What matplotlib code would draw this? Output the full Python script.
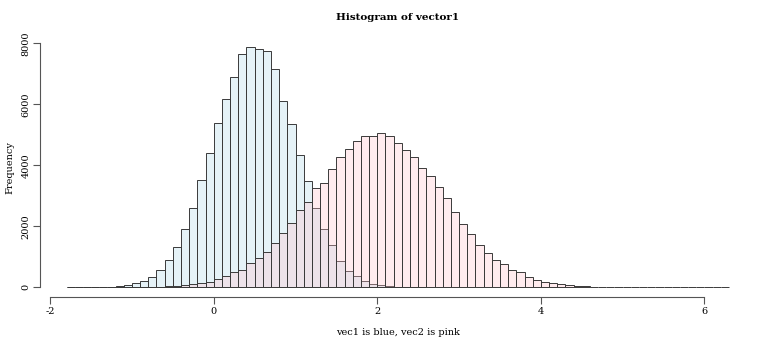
import numpy as np
import matplotlib
matplotlib.use("Agg")
import matplotlib.pyplot as plt

# ---- data (bin width 0.1) ----
bin_width = 0.1
blue_start = -1.8
blue_counts = [1, 1, 2, 5, 10, 20, 40, 80, 128, 215,
               355, 585, 905, 1315, 1918, 2597, 3529, 4405, 5398, 6165,
               6882, 7638, 7868, 7825, 7749, 7157, 6116, 5348, 4345, 3485,
               2608, 1907, 1381, 877, 540, 370, 200, 99, 70, 44,
               20, 9, 4, 2]
pink_start = -1.8
pink_counts = [1, 0, 0, 1, 1, 1, 2, 3, 5, 7,
               12, 19, 30, 46, 66, 99, 143, 175, 274, 373,
               515, 581, 811, 975, 1173, 1469, 1797, 2104, 2543, 2806,
               3266, 3420, 3891, 4264, 4548, 4800, 4965, 4954, 5074, 4976,
               4746, 4516, 4274, 3913, 3645, 3288, 2926, 2466, 2071, 1754,
               1392, 1129, 888, 778, 581, 493, 351, 248, 186, 142,
               99, 72, 50, 33, 20, 12, 7, 4, 2, 2,
               1, 1, 0, 1, 0, 0, 0, 0, 0, 0, 1]
x_ticks = [-2, 0, 2, 4, 6]
y_ticks = [0, 2000, 4000, 6000, 8000]
title = "Histogram of vector1"
xlabel = "vec1 is blue, vec2 is pink"
ylabel = "Frequency"

blue_col = (173/255, 216/255, 230/255, 80/255)
pink_col = (255/255, 192/255, 203/255, 80/255)

fig = plt.figure(figsize=(7.68, 3.41), dpi=100)
ax = fig.add_axes([40/768, 1 - 297/341, (755.5 - 40)/768, (297 - 37.7)/341])

blue_left = blue_start + bin_width * np.arange(len(blue_counts))
pink_left = pink_start + bin_width * np.arange(len(pink_counts))

ax.bar(blue_left, blue_counts, width=bin_width, align='edge',
       facecolor=blue_col, edgecolor='#3a3a3a', linewidth=0.7)
ax.bar(pink_left, pink_counts, width=bin_width, align='edge',
       facecolor=pink_col, edgecolor='#3a3a3a', linewidth=0.7)

xmin, xmax = -1.8, 6.3
pad = 0.04 * (xmax - xmin)
ax.set_xlim(xmin - pad, xmax + pad)
ymax = max(blue_counts)
ax.set_ylim(-0.04 * ymax, ymax * 1.04)

for s in ['top', 'right']:
    ax.spines[s].set_visible(False)
for s in ['left', 'bottom']:
    ax.spines[s].set_color('#555555')
    ax.spines[s].set_linewidth(0.8)
ax.spines['bottom'].set_bounds(x_ticks[0], x_ticks[-1])
ax.spines['left'].set_bounds(y_ticks[0], y_ticks[-1])

ax.set_xticks(x_ticks)
ax.set_xticklabels([str(t) for t in x_ticks])
ax.set_yticks(y_ticks)
ax.set_yticklabels([str(t) for t in y_ticks], rotation=90, va='center')
ax.tick_params(axis='both', direction='out', length=5, width=0.8,
               color='#555555', labelsize=7, pad=2)
for lab in ax.get_xticklabels() + ax.get_yticklabels():
    lab.set_family('DejaVu Serif')

ax.set_title(title, fontsize=7.5, fontweight='bold', family='DejaVu Serif', pad=13)
ax.set_xlabel(xlabel, fontsize=7, family='DejaVu Serif', labelpad=9)
ax.set_ylabel(ylabel, fontsize=7, family='DejaVu Serif', labelpad=5)
ax.patch.set_alpha(0)

fig.savefig("out.png", dpi=100)
